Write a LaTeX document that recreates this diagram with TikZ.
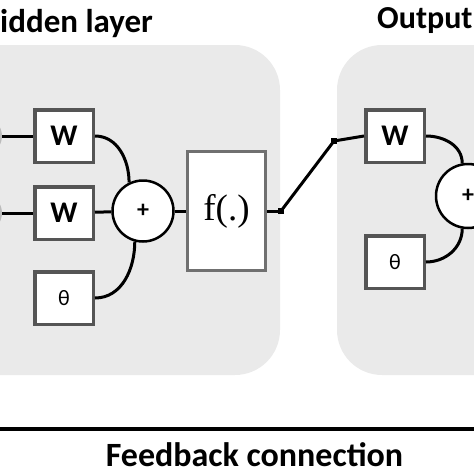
\documentclass[tikz,border=0pt]{standalone}
\usepackage{fontspec}
\setmainfont{Carlito}
\newfontfamily\serifx{Liberation Serif}
\definecolor{panel}{HTML}{EAEAEA}
\definecolor{bord}{HTML}{555555}
\definecolor{fbord}{HTML}{707070}
\definecolor{incirc}{HTML}{BBBBBB}
\begin{document}
\begin{tikzpicture}[x=1pt,y=-1pt,
  panelbox/.style={fill=panel,draw=none,rounded corners=45pt},
  wbox/.style={draw=bord,line width=3.5pt,fill=white,minimum width=58.5pt,minimum height=52.5pt,inner sep=0pt,font=\fontsize{30}{34}\selectfont\bfseries},
  thbox/.style={wbox,font=\fontsize{22}{26}\selectfont},
  fbox/.style={draw=fbord,line width=3.5pt,fill=white,minimum width=78pt,minimum height=119pt,inner sep=0pt,font=\serifx\fontsize{37}{40}\selectfont},
  sumc/.style={circle,draw=black,line width=2.5pt,fill=white,minimum size=61pt,inner sep=0pt,font=\fontsize{24}{28}\selectfont\bfseries},
  inc/.style={circle,draw=incirc,line width=2pt,fill=panel,minimum size=36pt,inner sep=0pt},
  jun/.style={rectangle,fill=black,minimum size=6pt,inner sep=0pt},
  conn/.style={draw=black,line width=3pt},
  title/.style={font=\fontsize{33}{38}\selectfont\bfseries,inner sep=0pt}]
\useasboundingbox (0,0) rectangle (474,474);
\clip (0,0) rectangle (474,474);
% panels
\fill[panelbox] (-60,45) rectangle (280,375);
\fill[panelbox] (337,45) rectangle (540,375);
% titles
\node[title,anchor=base west] (th) at (0,32) {idden layer};
\node[title,anchor=base west,font=\fontsize{32}{36}\selectfont\bfseries] (to) at (377,28) {Output};
\node[title,anchor=base,font=\fontsize{34}{38}\selectfont\bfseries] (tf) at (254.5,466) {Feedback connection};
% feedback line
\coordinate (fl) at (0,429);
\coordinate (fr) at (474,429);
\draw[line width=4pt] (fl) -- (fr);
% hidden layer nodes
\node[inc] (in1) at (-17,136) {};
\node[inc] (in2) at (-17,213) {};
\node[wbox] (w1) at (64,136) {W};
\node[wbox] (w2) at (64,213) {W};
\node[thbox] (th1) at (64,298) {θ};
\node[sumc] (s1) at (143,211) {+};
\node[fbox] (f) at (226.5,211) {f(.)};
\node[jun] (j1) at (281,211) {};
\node[jun] (j2) at (334,141) {};
% output layer nodes
\node[wbox] (w3) at (395,136) {W};
\node[thbox] (th3) at (395,262) {θ};
\node[sumc,minimum size=64pt] (s3) at (468,196) {+};
% connectors
\draw[conn] (in1) -- (w1);
\draw[conn] (in2) -- (w2);
\draw[conn] (w2) -- (s1);
\draw[conn] (w1.east) to[out=0,in=90] (s1.116);
\draw[conn] (th1.east) to[out=0,in=-90] (s1.-105);
\draw[conn] (s1) -- (f);
\draw[conn] (f.east) -- (j1.center);
\draw[conn] (j1.center) -- (j2.center);
\draw[conn] (j2.center) -- (w3.west);
\draw[conn] (w3.east) to[out=0,in=90] (s3.100);
\draw[conn] (th3.east) to[out=0,in=-90] (s3.-100);
\end{tikzpicture}
\end{document}
